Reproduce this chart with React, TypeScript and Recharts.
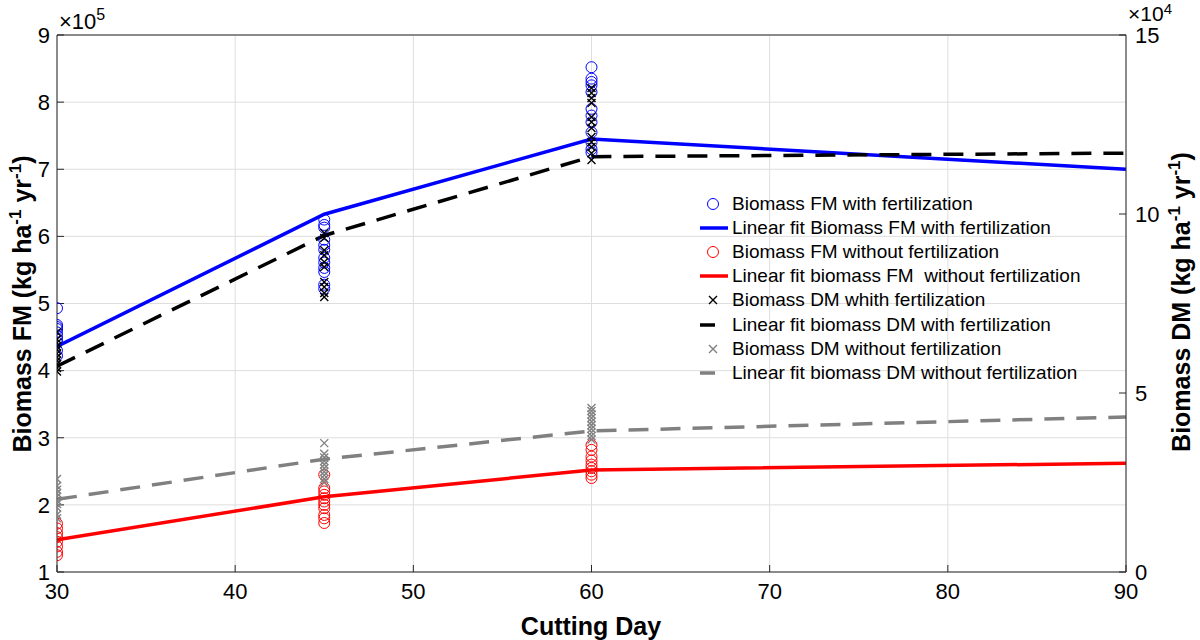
import React from 'react';
import {
  ComposedChart, Scatter, Line, XAxis, YAxis, CartesianGrid, ReferenceLine,
} from 'recharts';

const FONT = '"Liberation Sans", Arial, Helvetica, sans-serif';

// cutting days where samples were taken, and days used for the fitted lines
const sampleDays = [30, 45, 60];
const fitDays = [30, 45, 60, 90];
const xTicks = [30, 40, 50, 60, 70, 80, 90];
const fmTicks = [1, 2, 3, 4, 5, 6, 7, 8, 9].map((v) => v * 1e5);
const dmTicks = [0, 5, 10, 15].map((v) => v * 1e4);

// FM values in x10^5 kg ha-1 yr-1, one list per sample day
const fmWithFert = [
  [4.93, 4.68, 4.65, 4.62, 4.57, 4.52, 4.47, 4.42, 4.3, 4.22],
  [6.25, 6.17, 6.13, 5.95, 5.87, 5.8, 5.68, 5.61, 5.53, 5.47, 5.28, 5.22],
  [8.52, 8.35, 8.3, 8.25, 8.15, 7.9, 7.8, 7.7, 7.55, 7.4, 7.3, 7.25],
];
const fmWithoutFert = [
  [1.72, 1.65, 1.58, 1.52, 1.45, 1.38, 1.3, 1.25],
  [2.45, 2.25, 2.2, 2.15, 2.1, 2.05, 2.0, 1.95, 1.85, 1.8, 1.73],
  [2.89, 2.82, 2.72, 2.66, 2.6, 2.55, 2.5, 2.45, 2.4],
];
// DM values in x10^4 kg ha-1 yr-1
const dmWithFert = [
  [6.7, 6.5, 6.4, 6.3, 6.2, 6.1, 6.0, 5.9, 5.8, 5.7, 5.6],
  [9.47, 9.33, 8.99, 8.85, 8.66, 8.52, 8.1, 7.96, 7.79, 7.68],
  [13.52, 13.38, 13.24, 13.1, 12.71, 12.57, 12.4, 12.15, 12.01, 11.87, 11.7, 11.51],
];
const dmWithoutFert = [
  [2.6, 2.4, 2.3, 2.2, 2.1, 2.0, 1.9, 1.8, 1.6, 1.5],
  [3.6, 3.3, 3.2, 3.1, 3.0, 2.9, 2.8, 2.7, 2.6, 2.5],
  [4.58, 4.5, 4.4, 4.3, 4.2, 4.1, 4.0, 3.9, 3.8, 3.7],
];

// fitted lines at fitDays
const fmWithFit = [4.36, 6.33, 7.45, 7.0];
const fmWithoutFit = [1.48, 2.12, 2.52, 2.62];
const dmWithFit = [5.75, 9.4, 11.6, 11.7];
const dmWithoutFit = [2.03, 3.15, 3.94, 4.33];

const samples = (groups: number[][], scale: number) =>
  groups.flatMap((vals, i) => vals.map((v) => ({ x: sampleDays[i], y: v * scale })));
const fit = (vals: number[], scale: number) =>
  vals.map((v, i) => ({ x: fitDays[i], y: v * scale }));

const BLUE = '#0000ff';
const RED = '#ff0000';
const GRAY = '#808080';
const AXIS = '#262626';

const ring = (color: string) => (p: any) => (
  <circle cx={p.cx} cy={p.cy} r={5.5} fill="none" stroke={color} strokeWidth={1} />
);
const cross = (color: string) => (p: any) => (
  <path
    d={`M${p.cx - 4},${p.cy - 4}L${p.cx + 4},${p.cy + 4}M${p.cx - 4},${p.cy + 4}L${p.cx + 4},${p.cy - 4}`}
    stroke={color}
    strokeWidth={1.4}
    fill="none"
  />
);

function AxisTitle({ cx, cy, name }: { cx: number; cy: number; name: string }) {
  return (
    <text
      x={cx}
      y={cy}
      transform={`rotate(-90 ${cx} ${cy})`}
      textAnchor="middle"
      fontFamily={FONT}
      fontWeight="bold"
      fontSize={25}
      fill="#000"
    >
      {name} (kg ha<tspan dy={-10} fontSize={17}>-1</tspan>
      <tspan dy={10}> yr</tspan>
      <tspan dy={-10} fontSize={17}>-1</tspan>
      <tspan dy={10}>)</tspan>
    </text>
  );
}

function XTitle() {
  return (
    <text x={591} y={635} textAnchor="middle" fontFamily={FONT} fontWeight="bold" fontSize={25} fill="#000">
      Cutting Day
    </text>
  );
}

const legendItems = [
  { label: 'Biomass FM with fertilization', kind: 'ring', color: BLUE },
  { label: 'Linear fit Biomass FM with fertilization', kind: 'line', color: BLUE },
  { label: 'Biomass FM without fertilization', kind: 'ring', color: RED },
  { label: 'Linear fit biomass FM  without fertilization', kind: 'line', color: RED },
  { label: 'Biomass DM whith fertilization', kind: 'cross', color: '#000' },
  { label: 'Linear fit biomass DM with fertilization', kind: 'dash', color: '#000' },
  { label: 'Biomass DM without fertilization', kind: 'cross', color: GRAY },
  { label: 'Linear fit biomass DM without fertilization', kind: 'dash', color: GRAY },
];

function LegendIcon({ kind, color }: { kind: string; color: string }) {
  return (
    <svg width={34} height={24} style={{ display: 'block' }}>
      {kind === 'ring' && <circle cx={18} cy={12} r={5.5} fill="none" stroke={color} strokeWidth={1} />}
      {kind === 'cross' && (
        <path d="M14,8L22,16M14,16L22,8" stroke={color} strokeWidth={1.4} />
      )}
      {kind === 'line' && <line x1={5} x2={33} y1={12} y2={12} stroke={color} strokeWidth={3.5} />}
      {kind === 'dash' && <line x1={5} x2={20} y1={12} y2={12} stroke={color} strokeWidth={3.5} />}
    </svg>
  );
}

export default function App() {
  return (
    <div style={{ position: 'absolute', left: 0, top: 0, width: 1200, height: 640, background: '#fff' }}>
      <ComposedChart width={1200} height={640} margin={{ top: 35, right: 0, bottom: 0, left: 0 }}>
        <CartesianGrid yAxisId="left" stroke="#dedede" strokeWidth={1} />
        <XAxis
          type="number"
          dataKey="x"
          domain={[30, 90]}
          ticks={xTicks}
          allowDataOverflow
          height={68}
          stroke={AXIS}
          tickSize={-7}
          tickMargin={18}
          tick={{ fill: '#000', fontSize: 22, fontFamily: FONT }}
          label={<XTitle />}
        />
        <YAxis
          yAxisId="left"
          orientation="left"
          domain={[1e5, 9e5]}
          ticks={fmTicks}
          allowDataOverflow
          width={57}
          stroke={AXIS}
          tickSize={-7}
          tickMargin={14}
          tickFormatter={(v: number) => String(Math.round(v / 1e5))}
          tick={{ fill: '#000', fontSize: 22, fontFamily: FONT }}
          label={<AxisTitle cx={31} cy={304} name="Biomass FM" />}
        />
        <YAxis
          yAxisId="right"
          orientation="right"
          domain={[0, 15e4]}
          ticks={dmTicks}
          allowDataOverflow
          width={74}
          stroke={AXIS}
          tickSize={-7}
          tickMargin={16}
          tickFormatter={(v: number) => String(Math.round(v / 1e4))}
          tick={{ fill: '#000', fontSize: 22, fontFamily: FONT }}
          label={<AxisTitle cx={1190} cy={302} name="Biomass DM" />}
        />
        <ReferenceLine yAxisId="left" y={9e5} stroke={AXIS} strokeWidth={1} />

        <Scatter yAxisId="left" data={samples(fmWithFert, 1e5)} dataKey="y" shape={ring(BLUE)} isAnimationActive={false} />
        <Line yAxisId="left" data={fit(fmWithFit, 1e5)} dataKey="y" type="linear" stroke={BLUE} strokeWidth={3.5} dot={false} activeDot={false} isAnimationActive={false} />
        <Scatter yAxisId="left" data={samples(fmWithoutFert, 1e5)} dataKey="y" shape={ring(RED)} isAnimationActive={false} />
        <Line yAxisId="left" data={fit(fmWithoutFit, 1e5)} dataKey="y" type="linear" stroke={RED} strokeWidth={3.5} dot={false} activeDot={false} isAnimationActive={false} />
        <Scatter yAxisId="right" data={samples(dmWithFert, 1e4)} dataKey="y" shape={cross('#000')} isAnimationActive={false} />
        <Line yAxisId="right" data={fit(dmWithFit, 1e4)} dataKey="y" type="linear" stroke="#000" strokeWidth={3.5} strokeDasharray="20 12" dot={false} activeDot={false} isAnimationActive={false} />
        <Scatter yAxisId="right" data={samples(dmWithoutFert, 1e4)} dataKey="y" shape={cross(GRAY)} isAnimationActive={false} />
        <Line yAxisId="right" data={fit(dmWithoutFit, 1e4)} dataKey="y" type="linear" stroke={GRAY} strokeWidth={3.5} strokeDasharray="20 12" dot={false} activeDot={false} isAnimationActive={false} />

        <text x={59} y={29} fontFamily={FONT} fontSize={22} fill="#000">
          ×10<tspan dy={-9} fontSize={16}>5</tspan>
        </text>
        <text x={1128} y={21} fontFamily={FONT} fontSize={21} fill="#000">
          ×10<tspan dy={-7} fontSize={15}>4</tspan>
        </text>
      </ComposedChart>

      <div
        style={{
          position: 'absolute',
          left: 695,
          top: 192,
          fontFamily: FONT,
          fontSize: 19,
          color: '#000',
          lineHeight: '24px',
        }}
      >
        {legendItems.map((it) => (
          <div key={it.label} style={{ display: 'flex', alignItems: 'center', height: 24.1, whiteSpace: 'pre' }}>
            <LegendIcon kind={it.kind} color={it.color} />
            <span style={{ marginLeft: 3 }}>{it.label}</span>
          </div>
        ))}
      </div>
    </div>
  );
}
